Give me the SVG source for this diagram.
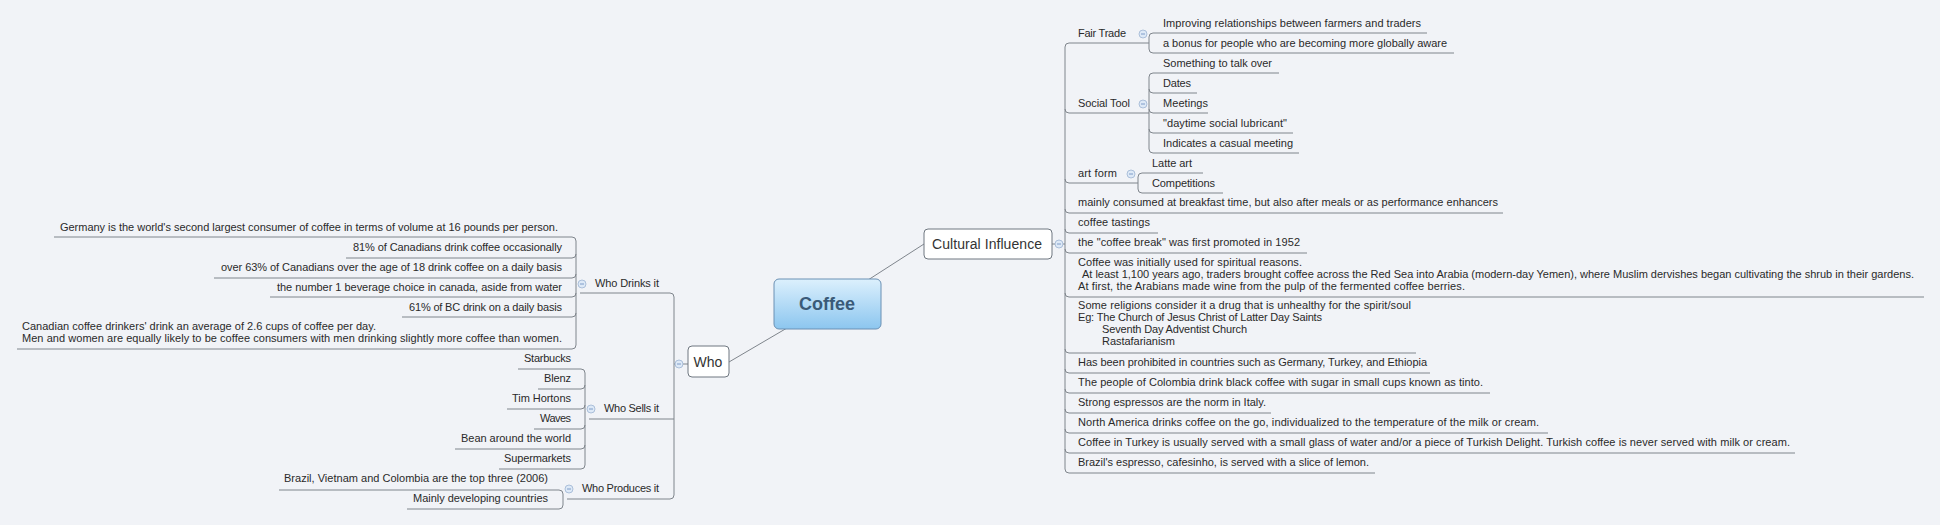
<svg xmlns="http://www.w3.org/2000/svg" width="1940" height="525" viewBox="0 0 1940 525">
<defs>
<linearGradient id="cg" x1="0" y1="0" x2="0" y2="1"><stop offset="0" stop-color="#dcf0fd"/><stop offset="1" stop-color="#8cc6ef"/></linearGradient>
<style>
text{font-family:"Liberation Sans",Arial,sans-serif;font-size:11px;fill:#2a2a2a}
.r{text-anchor:end}
.ln{stroke:#7f858c;stroke-width:1;fill:none}
.box{fill:#fff;stroke:#6f7780;stroke-width:1}
.cc{fill:#dde9f7;stroke:#9db4d2;stroke-width:0.8}
.cm{stroke:#7e9cc8;stroke-width:1}
.big{font-size:14px;fill:#333}
</style>
</defs>
<rect width="1940" height="525" fill="#f1f3f7"/>
<g id="connectors">
<path class="ln" d="M868 280 L924 244 M787 328 L729 362"/>
<!-- Who side -->
<path class="ln" d="M688 364 H674 M674 297 Q674 293 670 293 H580 M674 297 V495 Q674 499 670 499 H567 M674 419 H589"/>
<path class="ln" d="M576 241 V345 M576 241 Q576 237 572 237 H54 M576 254 Q576 258 572 258 H346 M576 274 Q576 278 572 278 H214 M576 293 Q576 297 572 297 H270 M576 313 Q576 317 572 317 H402 M576 345 Q576 349 572 349 H17"/>
<path class="ln" d="M585 373 V465 M585 373 Q585 369 581 369 H518 M585 385 Q585 389 581 389 H538 M585 405 Q585 409 581 409 H507 M585 425 Q585 429 581 429 H534 M585 445 Q585 449 581 449 H455 M585 465 Q585 469 581 469 H499"/>
<path class="ln" d="M563 494 V505 M563 494 Q563 490 559 490 H279 M563 505 Q563 509 559 509 H407"/>
<!-- Cultural side -->
<path class="ln" d="M1052 244 H1065 M1065 47 V469 M1065 47 Q1065 43 1069 43 H1149 M1065 109 Q1065 113 1069 113 H1149 M1065 179 Q1065 183 1069 183 H1138 M1065 209 Q1065 213 1069 213 H1503 M1065 229 Q1065 233 1069 233 H1158 M1065 249 Q1065 253 1069 253 H1307 M1065 293 Q1065 297 1069 297 H1924 M1065 349 Q1065 353 1069 353 H1416 M1065 369 Q1065 373 1069 373 H1430 M1065 389 Q1065 393 1069 393 H1490 M1065 409 Q1065 413 1069 413 H1271 M1065 429 Q1065 433 1069 433 H1548 M1065 449 Q1065 453 1069 453 H1795 M1065 469 Q1065 473 1069 473 H1375"/>
<path class="ln" d="M1149 37 V49 M1149 37 Q1149 33 1153 33 H1427 M1149 49 Q1149 53 1153 53 H1454"/>
<path class="ln" d="M1149 77 V149 M1149 77 Q1149 73 1153 73 H1279 M1149 89 Q1149 93 1153 93 H1197 M1149 109 Q1149 113 1153 113 H1208 M1149 129 Q1149 133 1153 133 H1293 M1149 149 Q1149 153 1153 153 H1299"/>
<path class="ln" d="M1138 177 V189 M1138 177 Q1138 173 1142 173 H1203 M1138 189 Q1138 193 1142 193 H1223"/>
</g>
<g id="coffee"><rect x="774" y="279" width="107" height="50" rx="5" fill="url(#cg)" stroke="#6a90b4"/><text x="827" y="310" text-anchor="middle" style="font-size:18px;font-weight:bold;fill:#3a5a78">Coffee</text></g>
<g id="who"><rect class="box" x="688" y="346" width="41" height="31" rx="4"/><text class="big" x="708" y="367" text-anchor="middle">Who</text><circle class="cc" cx="679" cy="364" r="4"/><path class="cm" d="M677 364 H681"/></g>
<g id="cultural"><rect class="box" x="924" y="229" width="128" height="30" rx="4"/><text class="big" x="932" y="249" textLength="110">Cultural Influence</text><circle class="cc" cx="1059" cy="244" r="4"/><path class="cm" d="M1057 244 H1061"/></g>
<g id="who-drinks"><text x="595" y="287" textLength="64">Who Drinks it</text><circle class="cc" cx="582" cy="284" r="4"/><path class="cm" d="M580 284 H584"/></g>
<g id="d1"><text x="60" y="231" textLength="498">Germany is the world's second largest consumer of coffee in terms of volume at 16 pounds per person.</text></g>
<g id="d2"><text class="r" x="562" y="251" textLength="209">81% of Canadians drink coffee occasionally</text></g>
<g id="d3"><text class="r" x="562" y="271" textLength="341">over 63% of Canadians over the age of 18 drink coffee on a daily basis</text></g>
<g id="d4"><text class="r" x="562" y="291" textLength="285">the number 1 beverage choice in canada, aside from water</text></g>
<g id="d5"><text class="r" x="562" y="311" textLength="153">61% of BC drink on a daily basis</text></g>
<g id="d6"><text x="22" y="330" textLength="354">Canadian coffee drinkers' drink an average of 2.6 cups of coffee per day.</text><text x="22" y="342" textLength="540">Men and women are equally likely to be coffee consumers with men drinking slightly more coffee than women.</text></g>
<g id="who-sells"><text x="604" y="412" textLength="55">Who Sells it</text><circle class="cc" cx="591" cy="409" r="4"/><path class="cm" d="M589 409 H593"/></g>
<g id="s1"><text class="r" x="571" y="362" textLength="47">Starbucks</text></g>
<g id="s2"><text class="r" x="571" y="382" textLength="27">Blenz</text></g>
<g id="s3"><text class="r" x="571" y="402" textLength="59">Tim Hortons</text></g>
<g id="s4"><text class="r" x="571" y="422" textLength="31">Waves</text></g>
<g id="s5"><text class="r" x="571" y="442" textLength="110">Bean around the world</text></g>
<g id="s6"><text class="r" x="571" y="462" textLength="67">Supermarkets</text></g>
<g id="who-produces"><text x="582" y="492" textLength="77">Who Produces it</text><circle class="cc" cx="569" cy="489" r="4"/><path class="cm" d="M567 489 H571"/></g>
<g id="p1"><text class="r" x="548" y="482" textLength="264">Brazil, Vietnam and Colombia are the top three (2006)</text></g>
<g id="p2"><text class="r" x="548" y="502" textLength="135">Mainly developing countries</text></g>
<g id="fair-trade"><text x="1078" y="37" textLength="48">Fair Trade</text><circle class="cc" cx="1143" cy="34" r="4"/><path class="cm" d="M1141 34 H1145"/></g>
<g id="f1"><text x="1163" y="27" textLength="258">Improving relationships between farmers and traders</text></g>
<g id="f2"><text x="1163" y="47" textLength="284">a bonus for people who are becoming more globally aware</text></g>
<g id="social-tool"><text x="1078" y="107" textLength="52">Social Tool</text><circle class="cc" cx="1143" cy="104" r="4"/><path class="cm" d="M1141 104 H1145"/></g>
<g id="t1"><text x="1163" y="67" textLength="109">Something to talk over</text></g>
<g id="t2"><text x="1163" y="87" textLength="28">Dates</text></g>
<g id="t3"><text x="1163" y="107" textLength="45">Meetings</text></g>
<g id="t4"><text x="1163" y="127" textLength="124">"daytime social lubricant"</text></g>
<g id="t5"><text x="1163" y="147" textLength="130">Indicates a casual meeting</text></g>
<g id="art-form"><text x="1078" y="177" textLength="39">art form</text><circle class="cc" cx="1131" cy="174" r="4"/><path class="cm" d="M1129 174 H1133"/></g>
<g id="a1"><text x="1152" y="167" textLength="40">Latte art</text></g>
<g id="a2"><text x="1152" y="187" textLength="63">Competitions</text></g>
<g id="c1"><text x="1078" y="206" textLength="420">mainly consumed at breakfast time, but also after meals or as performance enhancers</text></g>
<g id="c2"><text x="1078" y="226" textLength="72">coffee tastings</text></g>
<g id="c3"><text x="1078" y="246" textLength="222">the "coffee break" was first promoted in 1952</text></g>
<g id="c4"><text x="1078" y="266" textLength="224">Coffee was initially used for spiritual reasons.</text><text x="1082" y="278" textLength="832">At least 1,100 years ago, traders brought coffee across the Red Sea into Arabia (modern-day Yemen), where Muslim dervishes began cultivating the shrub in their gardens.</text><text x="1078" y="290" textLength="387">At first, the Arabians made wine from the pulp of the fermented coffee berries.</text></g>
<g id="c5"><text x="1078" y="309" textLength="333">Some religions consider it a drug that is unhealthy for the spirit/soul</text><text x="1078" y="321" textLength="244">Eg: The Church of Jesus Christ of Latter Day Saints</text><text x="1102" y="333" textLength="145">Seventh Day Adventist Church</text><text x="1102" y="345" textLength="73">Rastafarianism</text></g>
<g id="c6"><text x="1078" y="366" textLength="349">Has been prohibited in countries such as Germany, Turkey, and Ethiopia</text></g>
<g id="c7"><text x="1078" y="386" textLength="405">The people of Colombia drink black coffee with sugar in small cups known as tinto.</text></g>
<g id="c8"><text x="1078" y="406" textLength="188">Strong espressos are the norm in Italy.</text></g>
<g id="c9"><text x="1078" y="426" textLength="461">North America drinks coffee on the go, individualized to the temperature of the milk or cream.</text></g>
<g id="c10"><text x="1078" y="446" textLength="712">Coffee in Turkey is usually served with a small glass of water and/or a piece of Turkish Delight. Turkish coffee is never served with milk or cream.</text></g>
<g id="c11"><text x="1078" y="466" textLength="291">Brazil's espresso, cafesinho, is served with a slice of lemon.</text></g>
</svg>
